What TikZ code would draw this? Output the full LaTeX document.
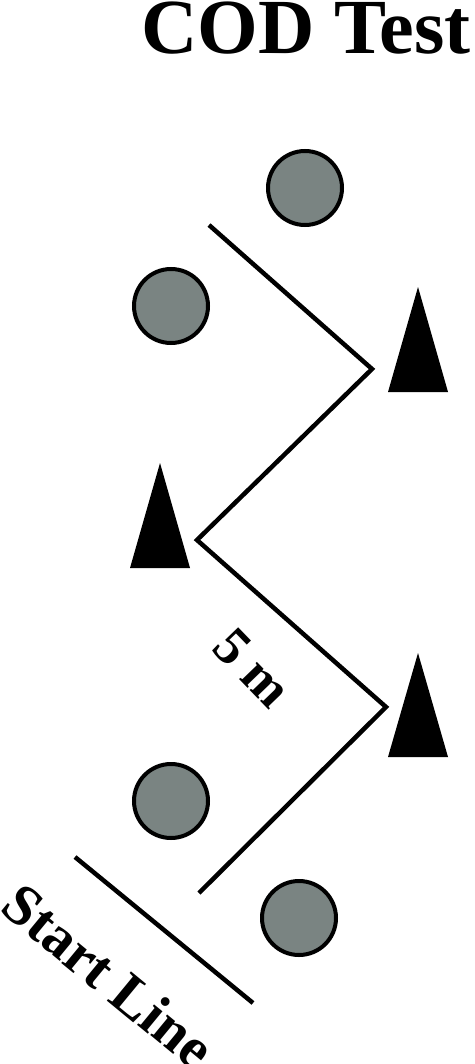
\documentclass[tikz,border=0pt]{standalone}
\usepackage{fontspec}
\setmainfont{Liberation Serif}
\usetikzlibrary{calc}

\definecolor{ballgray}{RGB}{122,132,130}

\begin{document}
\begin{tikzpicture}[x=1pt,y=1pt,
		ball/.style={draw=black, fill=ballgray, line width=4pt},
		cone/.style={fill=black},
		run/.style={line width=4.5pt, line join=miter}]
		\useasboundingbox (0,0) rectangle (474,-1064);

		\node[font=\bfseries\fontsize{78}{80}\selectfont, anchor=base] (title) at (306,-54) {COD Test};

		\coordinate (B1) at (305,-188);
		\coordinate (B2) at (171,-306);
		\coordinate (B3) at (171,-801);
		\coordinate (B4) at (299,-918);
		\draw[ball] (B1) circle(37pt);
		\draw[ball] (B2) circle(37pt);
		\draw[ball] (B3) circle(37pt);
		\draw[ball] (B4) circle(37pt);

		\coordinate (C1) at (418,-287);
		\coordinate (C2) at (160,-463);
		\coordinate (C3) at (418,-653);
		\fill[cone] (C1) -- ++(-30,-105) -- ++(60,0) -- cycle;
		\fill[cone] (C2) -- ++(-30,-105) -- ++(60,0) -- cycle;
		\fill[cone] (C3) -- ++(-30,-104) -- ++(60,0) -- cycle;

		\coordinate (P1) at (209,-225);
		\coordinate (P2) at (372,-369);
		\coordinate (P3) at (197,-540);
		\coordinate (P4) at (386,-707);
		\coordinate (P5) at (199,-893);
		\draw[run] (P1) -- (P2) -- (P3) -- (P4) -- (P5);

		\coordinate (S1) at (75,-857);
		\coordinate (S2) at (253,-1003);
		\draw[run] (S1) -- (S2);

		\node[font=\bfseries\fontsize{54}{56}\selectfont, rotate=-46] (dist) at (253,-668) {5 m};
		\node[font=\bfseries\fontsize{58}{60}\selectfont, rotate=-39.5] (start) at (109,-976) {Start Line};

	\end{tikzpicture}
\end{document}
